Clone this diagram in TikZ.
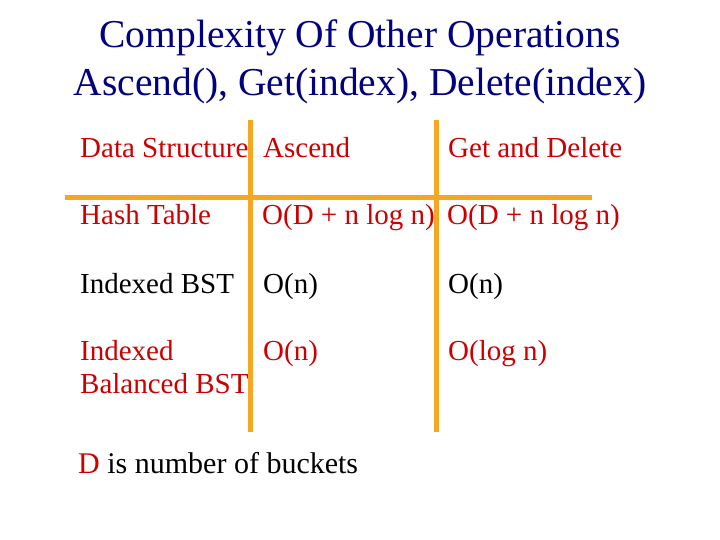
\documentclass[tikz,border=0pt]{standalone}
\usepackage{fontspec}
\setmainfont{Liberation Serif}
\definecolor{tblue}{HTML}{000080}
\definecolor{tred}{HTML}{CC0000}
\definecolor{torange}{HTML}{F5A623}
\begin{document}
\begin{tikzpicture}[x=1pt,y=-1pt,
  title/.style={text=tblue,font=\fontsize{39.5}{42}\selectfont,anchor=base},
  cell/.style={anchor=base west,font=\fontsize{29}{31}\selectfont,inner sep=0pt},
  rcell/.style={cell,text=tred},
  bar/.style={torange,line width=5pt}]
\useasboundingbox (0,0) rectangle (720,540);
\node[title] (t1) at (360,48) {Complexity Of Other Operations};
\node[title] (t2) at (360,96) {Ascend(), Get(index), Delete(index)};
\coordinate (v1a) at (250,120); \coordinate (v1b) at (250,432);
\coordinate (v2a) at (436,120); \coordinate (v2b) at (436,432);
\coordinate (ha) at (65,198); \coordinate (hb) at (592,198);
\draw[bar] (v1a) -- (v1b);
\draw[bar] (v2a) -- (v2b);
\draw[bar] (ha) -- (hb);
\node[rcell] (a1) at (80,158) {Data Structure};
\node[rcell] (a2) at (263,158) {Ascend};
\node[rcell] (a3) at (448,158) {Get and Delete};
\node[rcell] (b1) at (80,225) {Hash Table};
\node[rcell] (b2) at (262,225) {O(D + n log n)};
\node[rcell] (b3) at (447,225) {O(D + n log n)};
\node[cell] (c1) at (80,293) {Indexed BST};
\node[cell] (c2) at (263,293) {O(n)};
\node[cell] (c3) at (448,293) {O(n)};
\node[rcell] (d1) at (80,360) {Indexed};
\node[rcell] (d1b) at (80,393) {Balanced BST};
\node[rcell] (d2) at (263,360) {O(n)};
\node[rcell] (d3) at (448,360) {O(log n)};
\node[cell,font=\fontsize{30}{32}\selectfont] (f) at (78,473) {\textcolor{tred}{D} is number of buckets};
\end{tikzpicture}
\end{document}
